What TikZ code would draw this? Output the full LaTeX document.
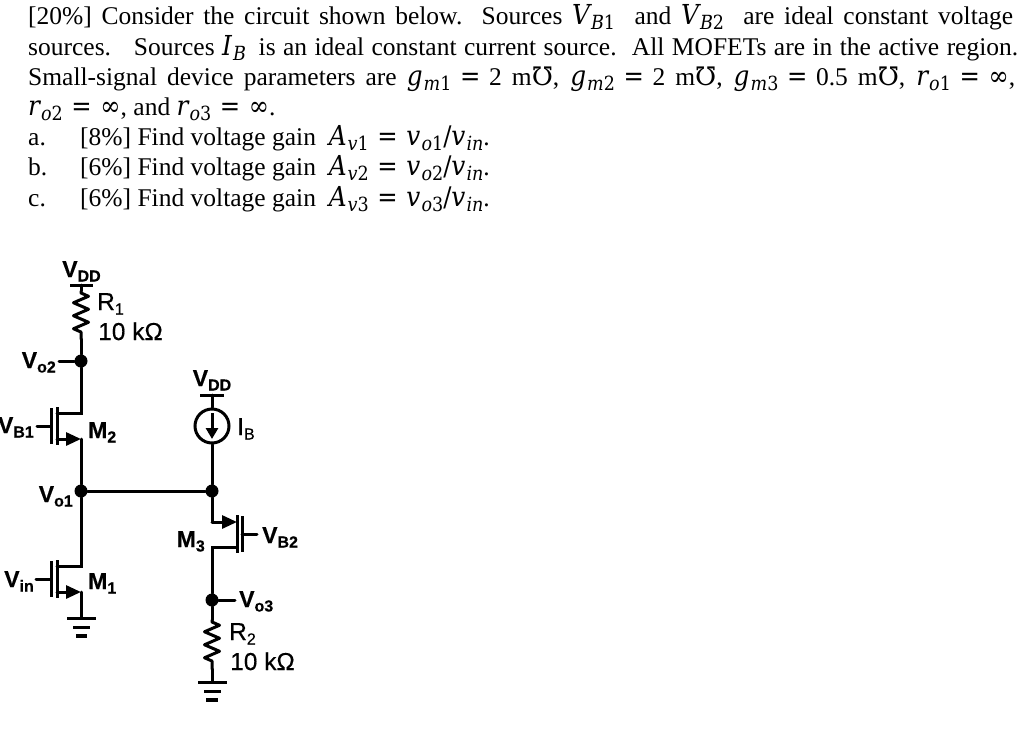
\documentclass[tikz,border=0pt]{standalone}
\usepackage{fontspec}
\setmainfont{Liberation Serif}
\newfontfamily\labfont[FakeBold=0.35]{Liberation Sans}
\newfontfamily\mhofont{DejaVu Serif}
\newfontfamily\mfont{DejaVu Serif Condensed}
\usetikzlibrary{arrows.meta,decorations.pathmorphing}
\newcommand{\mhosym}{{\mhofont\char"2127\relax}}
\newcommand{\sublab}[1]{\raisebox{-4.5pt}{\fontsize{16}{16}\selectfont #1}}
\newcommand{\mv}[3]{{\mfont\itshape\fontsize{27.5}{30}\selectfont #1\hspace{0.04em}\raisebox{-5pt}{\fontsize{19.5}{19}\selectfont #2{\upshape #3}}}}
\newcommand{\meq}{{\mfont\fontsize{27}{30}\selectfont\hspace{0.32em}=\hspace{0.32em}}}
\newcommand{\minf}{{\mfont\fontsize{27}{30}\selectfont\char"221E\relax}}
\newcommand{\mdiv}{{\mfont\fontsize{27}{30}\selectfont/}}

\begin{document}
\begin{tikzpicture}[
						x=1pt,y=-1pt,
						textline/.style = {anchor=base west,inner sep=0,font=\fontsize{25.5}{30}\selectfont},
						lab/.style = {inner sep=0,font=\labfont\fontsize{24.5}{26}\selectfont},
						labb/.style = {lab,font=\labfont\bfseries\fontsize{23}{26}\selectfont},
						wire/.style = {line width=3pt,line cap=round},
						thin wire/.style = {line width=3pt},
						mosarrow/.style = {wire,-{Triangle[length=15pt,width=13pt]}},
						dotnode/.style = {circle,fill,inner sep=0,minimum size=13pt},
						srcnode/.style = {circle,draw,line width=3pt,inner sep=0,minimum size=34pt},
						res/.style = {wire,line join=round,decorate,decoration={zigzag,segment length=13pt,amplitude=7.5pt,pre length=2pt,post length=2pt}}
					]

					\useasboundingbox (0,0) rectangle (1024,736);

					\node[textline] (line1) at (28,24) {\hbox to 985pt{[20\%] Consider the circuit shown below.~~Sources \mv{V}{B}{1}~ and \mv{V}{B}{2}~ are ideal constant voltage}};
					\node[textline] (line2) at (28,55) {\spaceskip=0.19em plus 0.2em minus 0.05em\hbox to 990pt{sources.\hspace{0.9em}Sources \mv{I}{B}{}\hspace{0.5em}is an ideal constant current source.\hspace{0.6em}All MOFETs are in the active region.}};
					\node[textline] (line3) at (28,85) {\hbox to 987pt{Small-signal device parameters are~\mv{g}{m}{1}\meq 2~m\mhosym, \mv{g}{m}{2}\meq 2~m\mhosym, \mv{g}{m}{3}\meq 0.5~m\mhosym, \mv{r}{o}{1}\meq\minf,}};
					\node[textline] (line4) at (28,115) {\mv{r}{o}{2}\meq\minf, and \mv{r}{o}{3}\meq\minf.};
					\node[textline] (parta) at (28,145) {a.};
					\node[textline] (partb) at (28,175) {b.};
					\node[textline] (partc) at (28,206) {c.};
					\node[textline] (findA) at (80,145) {[8\%] Find voltage gain\ \ \mv{A}{v}{1}\meq\mv{v}{o}{1}\mdiv\mv{v}{in}{}.};
					\node[textline] (findB) at (80,175) {[6\%] Find voltage gain\ \ \mv{A}{v}{2}\meq\mv{v}{o}{2}\mdiv\mv{v}{in}{}.};
					\node[textline] (findC) at (80,206) {[6\%] Find voltage gain\ \ \mv{A}{v}{3}\meq\mv{v}{o}{3}\mdiv\mv{v}{in}{}.};

					\node[dotnode] (vo2) at (81,361) {};
					\node[dotnode] (vo1) at (81,491) {};
					\node[dotnode] (vx) at (212,491) {};
					\node[dotnode] (vo3) at (212,600) {};
					\node[srcnode] (ib) at (212,426) {};

					\coordinate (vdd1) at (81,285);
					\coordinate (r1top) at (81,291);
					\coordinate (r1bot) at (81,339);
					\coordinate (o2stub) at (59,361);
					\coordinate (m2d) at (81,413);
					\coordinate (m2dc) at (57,413);
					\coordinate (m2s) at (81,439);
					\coordinate (m2sc) at (57,439);
					\coordinate (m2g) at (51,426);
					\coordinate (b1stub) at (37,426);
					\coordinate (m1d) at (81,566);
					\coordinate (m1dc) at (57,566);
					\coordinate (m1s) at (81,592);
					\coordinate (m1sc) at (57,592);
					\coordinate (m1g) at (51,579);
					\coordinate (instub) at (36,579);
					\coordinate (gnd1) at (81,618);
					\coordinate (vdd2) at (212,395);
					\coordinate (m3s) at (212,522);
					\coordinate (m3sc) at (237,522);
					\coordinate (m3d) at (212,547);
					\coordinate (m3dc) at (237,547);
					\coordinate (m3g) at (242,534);
					\coordinate (b2stub) at (257,534);
					\coordinate (o3stub) at (235,600);
					\coordinate (r2top) at (212,620);
					\coordinate (r2bot) at (212,669);
					\coordinate (gnd2) at (212,682);

					\draw[wire] (vdd1) -- (r1top);
					\draw[res] (r1top) -- (r1bot);
					\draw[wire] (r1bot) -- (vo2) -- (m2d) -- (m2dc);
					\draw[wire] (vo2) -- (o2stub);
					\draw[mosarrow] (m2sc) -- (m2s);
					\draw[wire] (m2s) -- (vo1) -- (m1d) -- (m1dc);
					\draw[wire] (m2g) -- (b1stub);
					\draw[mosarrow] (m1sc) -- (m1s);
					\draw[wire] (m1s) -- (gnd1);
					\draw[wire] (m1g) -- (instub);
					\draw[wire] (vo1) -- (vx);
					\draw[wire] (vdd2) -- (ib);
					\draw[wire] (ib) -- (vx) -- (m3s);
					\draw[mosarrow] (m3s) -- (m3sc);
					\draw[wire] (m3dc) -- (m3d) -- (vo3) -- (r2top);
					\draw[wire] (m3g) -- (b2stub);
					\draw[wire] (vo3) -- (o3stub);
					\draw[res] (r2top) -- (r2bot);
					\draw[wire] (r2bot) -- (gnd2);

					\draw[-{Triangle[length=11pt,width=12pt]},line width=3pt] (212,413) -- (212,439);

					\draw[thin wire] (57,407) -- (57,445);
					\draw[thin wire] (51,408) -- (51,444);
					\draw[thin wire] (57,560) -- (57,598);
					\draw[thin wire] (51,561) -- (51,597);
					\draw[thin wire] (237,515) -- (237,553);
					\draw[thin wire] (242,516) -- (242,552);

					\draw[thin wire] (70,285) -- (93,285);
					\draw[thin wire] (200,395) -- (224,395);
					\draw[thin wire] (67,618) -- (96,618);
					\draw[thin wire] (73,627) -- (90,627);
					\draw[line width=3.4pt] (76,636) -- (87,636);
					\draw[thin wire] (198,682) -- (227,682);
					\draw[thin wire] (204,691) -- (221,691);
					\draw[line width=3.4pt] (206,700) -- (218,700);

					\node[labb,anchor=base] (vddA) at (81.5,277) {V\sublab{DD}};
					\node[lab,anchor=base west] (r1) at (97,310) {R\sublab{1}};
					\node[lab,anchor=base west] (r1v) at (98,340) {10 kΩ};
					\node[labb,anchor=base east] (vo2lab) at (56,368) {V\sublab{o2}};
					\node[labb,anchor=base east] (vb1) at (34,433) {V\sublab{B1}};
					\node[labb,anchor=base west] (m2) at (88,438) {M\sublab{2}};
					\node[labb,anchor=base east] (vo1lab) at (73,502) {V\sublab{o1}};
					\node[labb,anchor=base east] (vin) at (34,587) {V\sublab{in}};
					\node[labb,anchor=base west] (m1) at (88,589) {M\sublab{1}};
					\node[labb,anchor=base] (vddB) at (212,386) {V\sublab{DD}};
					\node[lab,anchor=base west] (iblab) at (237,435) {I\sublab{B}};
					\node[labb,anchor=base east] (m3) at (205,547) {M\sublab{3}};
					\node[labb,anchor=base west] (vb2) at (262,543) {V\sublab{B2}};
					\node[labb,anchor=base west] (vo3lab) at (239,607) {V\sublab{o3}};
					\node[lab,anchor=base west] (r2) at (229,640) {R\sublab{2}};
					\node[lab,anchor=base west] (r2v) at (230,670) {10 kΩ};

				\end{tikzpicture}
\end{document}
